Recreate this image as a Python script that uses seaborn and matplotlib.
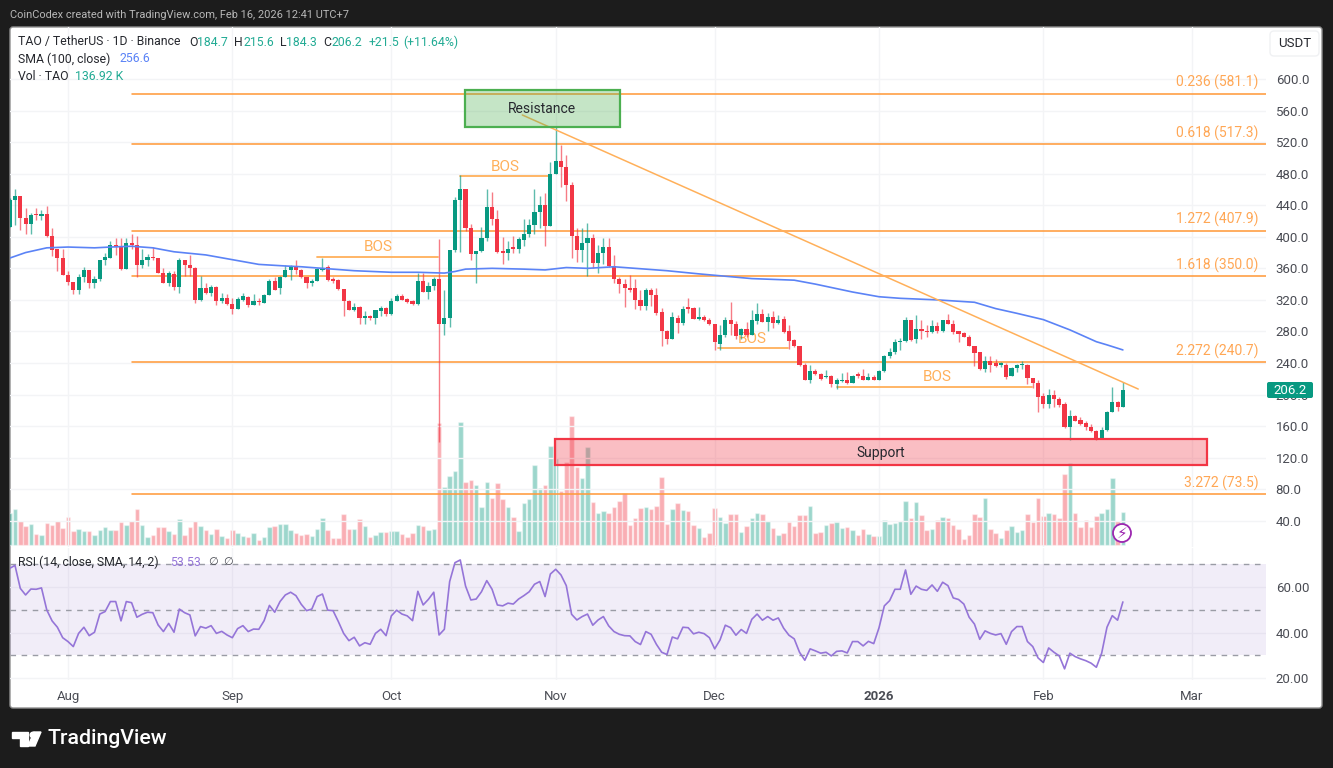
import matplotlib
matplotlib.use('Agg')
import matplotlib.pyplot as plt
from matplotlib.patches import Rectangle, FancyBboxPatch, Circle, Polygon
import pandas as pd
import seaborn as sns

# daily candles, index 0 = 21 Jul 2025, index 210 = 16 Feb 2026
opens = [413,446,452,424,416,428,426,429,401,384,
         373,352,343,333,349,358,341,346,371,373,
         390,388,359,392,390,364,370,375,373,354,
         341,353,336,371,364,361,320,335,329,336,
         318,323,315,309,320,324,314,319,316,326,
         344,335,349,358,362,358,349,342,344,358,
         362,346,345,334,319,307,311,297,300,297,
         306,310,302,319,325,321,318,315,344,330,
         338,347,290,297,383,447,460,411,378,382,
         399,438,422,382,380,387,384,396,404,415,
         432,440,414,480,496,489,466,401,383,392,
         399,367,380,387,363,347,340,335,335,320,
         312,333,326,305,280,271,297,291,310,310,
         296,298,295,289,264,276,295,290,275,283,
         276,293,302,292,298,291,296,280,269,262,
         238,219,230,226,222,223,213,217,218,215,
         225,224,218,222,218,230,249,254,267,268,
         294,270,283,281,279,287,280,294,290,280,
         278,273,262,254,233,242,240,237,238,223,
         234,237,237,221,215,198,188,199,194,188,
         159,173,168,164,159,154,145,155,178,191,184.7]
closes = [447,452,424,416,427,427,429,401,383,373,
          352,343,333,349,358,342,346,371,374,390,
          387,359,392,390,364,370,374,373,354,342,
          354,336,371,364,360,320,335,329,336,319,
          323,315,309,321,325,314,318,317,326,344,
          333,349,358,362,358,349,342,344,359,361,
          345,344,334,318,307,311,297,300,297,307,
          310,302,319,325,320,317,315,344,330,338,
          347,290,297,383,447,461,411,378,382,399,
          438,422,381,380,385,385,397,404,415,432,
          440,414,480,496,489,466,401,383,392,399,
          367,380,387,363,347,340,335,332,320,312,
          333,326,304,280,271,298,291,309,309,296,
          298,295,289,267,276,295,290,274,283,276,
          295,302,292,298,291,295,279,268,262,238,
          219,230,226,220,224,213,218,218,215,224,
          224,218,222,219,230,249,254,267,268,294,
          269,283,280,279,287,280,294,290,279,277,
          273,262,253,233,242,237,236,240,222,234,
          237,239,221,215,197,188,199,194,187,159,
          173,167,163,159,154,143,155,178,191,184,206.2]
highs = [449,461,452,436,430,436,434,439,411,384,
         384,357,343,353,362,358,350,371,379,395,
         399,398,399,404,401,384,378,387,373,360,
         356,356,373,371,377,362,350,341,339,337,
         329,328,322,324,329,325,327,322,328,347,
         349,350,364,364,370,359,349,346,361,373,
         364,349,347,334,320,316,312,306,301,307,
         312,311,322,328,328,322,320,354,354,343,
         349,397,332,383,450,478,460,416,382,413,
         460,457,434,400,395,401,400,423,423,460,
         452,455,495,539,516,504,470,411,411,417,
         404,390,399,398,377,349,347,351,347,333,
         335,335,335,310,282,305,301,312,323,311,
         311,301,297,289,288,298,317,293,284,292,
         307,316,309,303,306,301,299,288,270,262,
         240,237,232,227,231,225,221,227,228,225,
         228,232,227,225,231,250,259,270,272,298,
         295,301,295,288,294,292,295,302,295,281,
         279,276,262,254,249,249,245,241,240,235,
         239,243,239,221,218,202,207,206,197,191,
         180,174,171,167,163,155,159,179,209,192,215.6]
lows = [413,415,409,403,403,421,421,400,376,356,
        352,339,327,328,343,335,335,344,364,373,
        377,358,359,385,349,360,363,371,354,341,
        337,333,329,350,350,316,318,328,325,314,
        316,314,302,308,318,311,314,314,316,326,
        333,327,349,345,353,348,335,337,344,356,
        344,341,333,300,307,306,290,290,295,289,
        299,299,301,318,320,316,313,313,330,321,
        333,140,275,286,381,381,407,371,342,381,
        395,415,380,366,371,379,379,388,400,404,
        411,388,414,480,463,445,373,368,368,350,
        360,354,366,362,342,329,311,330,308,307,
        307,312,301,261,264,270,278,288,303,296,
        295,293,288,256,257,273,276,270,271,273,
        276,290,292,280,285,290,278,258,260,236,
        218,215,225,218,221,210,207,216,214,215,
        221,218,218,218,218,229,246,252,257,267,
        268,265,271,273,278,278,279,289,277,267,
        273,261,236,231,229,229,235,235,220,224,
        228,233,214,208,178,183,183,184,184,157,
        143,166,161,155,152,142,145,154,178,179,184.3]
# thousands of TAO
volumes = [133,147,99,79,85,44,41,92,84,99,
           70,116,58,64,58,58,40,60,75,62,
           60,93,84,97,147,84,32,40,75,74,
           58,44,108,40,74,100,79,62,44,64,
           37,27,60,51,36,34,48,19,32,73,
           77,85,88,62,49,42,45,37,67,110,
           60,29,27,129,67,64,108,79,33,41,
           53,53,58,58,44,33,48,84,77,60,
           64,500,237,285,306,507,258,267,248,158,
           258,195,253,188,156,116,59,171,188,329,
           233,247,407,356,221,340,532,322,274,401,
           175,132,141,130,158,182,215,82,111,151,
           155,147,159,279,85,149,171,144,140,82,
           71,32,48,151,116,89,127,127,53,77,
           110,133,126,97,69,41,48,93,77,122,
           123,159,51,53,81,92,93,71,73,60,
           42,67,47,38,36,101,85,90,99,182,
           110,178,123,60,64,101,115,111,81,67,
           26,42,127,114,192,64,51,29,60,79,
           55,60,126,96,192,119,130,127,110,290,
           336,130,73,103,73,119,133,149,274,99,136.92]
rsi = [68.3,69.6,59.5,56.6,59.2,59.1,59.7,50,45.2,42.4,
       37.8,36.1,33.9,39.7,42.4,38.7,40.2,48.2,49.3,53.7,
       53.7,45.2,53.7,53.2,46.8,48.1,49,48.8,43.4,40.5,
       44.1,40.2,50.4,48.8,47.8,38.6,42.7,42,43.1,39.7,
       40.6,39,37.8,41.8,43.1,40.5,41.6,41.5,45.3,52,
       49,53.7,56.6,57.8,56.3,52.5,49.7,50.4,55.9,57,
       49.9,49.7,44.9,39.7,36.5,38,34.2,35.6,34.9,39.7,
       41.5,38.7,47.4,49.9,48.2,47.4,45.3,58.2,52.2,54.7,
       57.8,39,41.5,62.5,70.8,72,60.5,54.4,54.8,58,
       62.9,59.1,52.2,51.8,53,52.6,54.8,56.3,58,61.3,
       62.5,55.9,65.8,67.9,65.4,60.7,48.1,45.6,47.1,48.2,
       43.3,45.6,47.1,43,40.5,39.3,38.7,38.6,36.1,34.8,
       40.5,39.3,34.9,31.4,30.4,38.1,37.3,42.4,42.2,39.5,
       40.2,39.6,37.8,32.9,36.8,43.3,42.2,38.9,41.4,39.7,
       45.9,48.2,45.5,47.1,45.5,46.5,42,38.9,37.3,31.4,
       27.9,32.9,32,31,31.4,29.8,31.8,32,31.1,36.1,
       36.1,34.2,36.2,35.2,42.2,51.8,54.1,59.1,59.1,67.6,
       56.9,60.5,59.1,58.6,61,58.2,62.2,60.7,55.3,54.6,
       52.6,46.8,43.8,37.1,40.8,39.7,39,39.6,34.9,40.5,
       42.7,42.7,36.1,33.9,28.9,26.9,33.3,31.4,29.8,24.1,
       31,29.5,28.5,27.7,26.6,24.8,31,42.4,47.5,45.5,53.53]

sma_days = [0,3,7,11,16,19,23,27,31,37,42,47,52,55,59,65,72,77,82,84,86,91,97,101,105,
            109,114,118,124,130,135,140,148,152,159,164,168,175,182,186,190,195,200,205,207,210]
sma_values = [373,380,386,387,386,387,388,386,381,377,371,365,363,362,360,357,355,355,354,356,359,360,359,358,361,
              360,362,360,357,353,350,347,345,340,330,324,322,320,317,309,303,295,282,267,263,256.6]

month_days = [11, 42, 72, 103, 133, 164, 195, 223]
month_labels = ['Aug', 'Sep', 'Oct', 'Nov', 'Dec', '2026', 'Feb', 'Mar']
price_ticks = [40, 80, 120, 160, 200, 240, 280, 320, 360, 400, 440, 480, 520, 560, 600]
rsi_ticks = [20, 40, 60]
fib_levels = [581.1, 517.3, 407.9, 350.0, 240.7, 73.5]
fib_labels = ['0.236 (581.1)', '0.618 (517.3)', '1.272 (407.9)', '1.618 (350.0)', '2.272 (240.7)', '3.272 (73.5)']
bos_starts = [57.9, 85, 133.6, 156]
bos_ends = [80.8, 101.6, 146.9, 192.9]
bos_prices = [374.8, 477.5, 258.7, 210]
bos_label_days = [69.5, 93.5, 140, 175]
bos_label_prices = [387, 489, 271, 222.5]

W, H = 1333, 768
UP, DOWN = '#089981', '#f23645'
ORANGE = '#ff9b3d'
LIGHT_ORANGE = '#ffb05a'
GRID = '#f3f4f6'
LABEL = '#4a4c54'

sns.set_theme(style='white')
plt.rcParams['font.family'] = ['Roboto', 'DejaVu Sans']

df = pd.DataFrame({'day': range(len(closes)), 'open': opens, 'close': closes,
                   'high': highs, 'low': lows, 'vol': volumes, 'rsi': rsi})
df['side'] = ['up' if c >= o else 'down' for o, c in zip(df['open'], df['close'])]
sma = pd.DataFrame({'day': sma_days, 'sma': sma_values})


def pane(x0, y0, x1, y1, z):
    a = fig.add_axes([x0 / W, 1 - y1 / H, (x1 - x0) / W, (y1 - y0) / H], zorder=z)
    a.patch.set_visible(False)
    for s in a.spines.values():
        s.set_visible(False)
    return a


fig = plt.figure(figsize=(W / 100, H / 100), dpi=100, facecolor='#1c1c1c')

# white panel behind everything
over0 = pane(0, 0, W, H, 0)
over0.set_xlim(0, W)
over0.set_ylim(H, 0)
over0.axis('off')
over0.add_patch(FancyBboxPatch((11, 28), 1310, 679, boxstyle='round,pad=1,rounding_size=3',
                               fc='white', ec='#8f8f8f', lw=1))

# volume pane, same strip as price
ax_vol = pane(10, 27, 1266, 547, 1)
sns.barplot(data=df, x='day', y='vol', hue='side', palette={'up': UP, 'down': DOWN},
            native_scale=True, dodge=False, width=0.85, saturation=1, alpha=0.4,
            errorbar=None, legend=False, ax=ax_vol)
ax_vol.set_xlim(0.06, 237)
ax_vol.set_ylim(-8.2, 2129)
ax_vol.set_xlabel('')
ax_vol.set_ylabel('')
ax_vol.set_xticks([])
ax_vol.set_yticks([])

# price pane
ax = pane(10, 27, 1266, 547, 2)
ax.set_xlim(0.06, 237)
ax.set_ylim(6.8, 665.9)
ax.yaxis.tick_right()
ax.set_yticks(price_ticks)
ax.set_yticklabels([f'{p:.1f}' for p in price_ticks], fontsize=9.5, color=LABEL)
ax.set_xticks(month_days)
ax.set_xticklabels([])
ax.tick_params(axis='both', length=0, pad=7)
ax.grid(True, color=GRID, lw=1)
ax.set_axisbelow(True)

for lvl, lab in zip(fib_levels, fib_labels):
    ax.plot([23.07, 237], [lvl, lvl], color=ORANGE, lw=1.15, zorder=2)
    ax.annotate(lab, xy=(235.6, lvl), xytext=(0, 2.5), textcoords='offset points',
                ha='right', va='bottom', color='#ffa755', fontsize=10, zorder=2)

for s, e, p in zip(bos_starts, bos_ends, bos_prices):
    ax.plot([s, e], [p, p], color=LIGHT_ORANGE, lw=1.3, zorder=2)
for d, p in zip(bos_label_days, bos_label_prices):
    ax.text(d, p, 'BOS', color=LIGHT_ORANGE, fontsize=11, ha='center', va='center', zorder=2)

# candles
colors = [UP if s == 'up' else DOWN for s in df['side']]
ax.vlines(df['day'], df['low'], df['high'], colors=colors, lw=1, alpha=0.65, zorder=3)
body = (df['close'] - df['open']).abs().clip(lower=1.5)
ax.bar(df['day'], body, bottom=df[['open', 'close']].min(axis=1), width=0.78, color=colors, lw=0, zorder=4)

sns.lineplot(data=sma, x='day', y='sma', color='#5b83f6', lw=1.2, ax=ax, zorder=5)
ax.set_xlabel('')
ax.set_ylabel('')

ax.plot([96.7, 212.9], [554.4, 207], color=LIGHT_ORANGE, lw=1.1, zorder=6)

ax.add_patch(Rectangle((85.9, 539), 29.3, 47, fc='#4caf50', ec='none', alpha=0.32, zorder=6))
ax.add_patch(Rectangle((85.9, 539), 29.3, 47, fc='none', ec='#4caf50', lw=1.6, zorder=6))
ax.text(100.5, 561.5, 'Resistance', color='#26282e', fontsize=10, ha='center', va='center', zorder=7)
ax.add_patch(Rectangle((102.9, 110.8), 123, 32.9, fc=DOWN, ec='none', alpha=0.32, zorder=6))
ax.add_patch(Rectangle((102.9, 110.8), 123, 32.9, fc='none', ec=DOWN, lw=1.6, zorder=6))
ax.text(164.4, 126, 'Support', color='#26282e', fontsize=10, ha='center', va='center', zorder=7)

# rsi pane
ax_rsi = pane(10, 548, 1266, 680, 2)
ax_rsi.set_xlim(0.06, 237)
ax_rsi.set_ylim(19.2, 77.25)
ax_rsi.axhspan(30, 70, color='#7e57c2', alpha=0.1, lw=0)
for lvl in [30, 50, 70]:
    ax_rsi.axhline(lvl, color='#9a9ca5', lw=1, ls=(0, (4, 4)))
sns.lineplot(data=df, x='day', y='rsi', color='#9575d8', lw=1.2, ax=ax_rsi)
ax_rsi.yaxis.tick_right()
ax_rsi.set_yticks(rsi_ticks)
ax_rsi.set_yticklabels([f'{v:.2f}' for v in rsi_ticks], fontsize=9.5, color=LABEL)
ax_rsi.set_xticks(month_days)
ax_rsi.set_xticklabels(month_labels, fontsize=9.5, color=LABEL)
ax_rsi.get_xticklabels()[5].set_fontweight('bold')
ax_rsi.tick_params(axis='y', length=0, pad=7)
ax_rsi.tick_params(axis='x', length=0, pad=7)
ax_rsi.grid(True, color=GRID, lw=1)
ax_rsi.set_axisbelow(True)
ax_rsi.set_xlabel('')
ax_rsi.set_ylabel('')

# header texts, badges and logo in pixel coordinates
over = pane(0, 0, W, H, 5)
over.set_xlim(0, W)
over.set_ylim(H, 0)
over.axis('off')


def put(x, y, s, c='#26282e', size=9.2, **kw):
    over.text(x, y, s, color=c, fontsize=size, va='center', **kw)


put(10, 15.5, 'CoinCodex created with TradingView.com, Feb 16, 2026 12:41 UTC+7', '#b8b8b8', 7.9)
TEAL = '#22ab94'
put(18, 42, 'TAO / TetherUS · 1D · Binance', size=8.8)
for x, s, c in [(189, 'O', None), (197, '184.7', TEAL), (234, 'H', None), (243, '215.6', TEAL),
                (280, 'L', None), (286, '184.3', TEAL), (323, 'C', None), (332, '206.2', TEAL),
                (369, '+21.5', TEAL), (403, '(+11.64%)', TEAL)]:
    put(x, 42, s, c or '#26282e', 8.8)
put(18, 59, 'SMA (100, close)', size=8.8)
put(119, 59, '256.6', '#5b83f6', 8.8)
put(18, 76, 'Vol · TAO', size=8.8)
put(75, 76, '136.92 K', TEAL, 8.8)
put(18, 562, 'RSI (14, close, SMA, 14, 2)', size=8.8)
put(170, 562, '53.53', '#9575d8', 8.8)
put(213, 562, '∅', '#4a4c54', 8, ha='center')
put(228, 562, '∅', '#4a4c54', 8, ha='center')

over.add_patch(FancyBboxPatch((1271, 32), 47, 23, boxstyle='round,pad=1,rounding_size=4',
                              fc='white', ec='#f0f1f3', lw=1))
put(1295, 43.5, 'USDT', size=9.5, ha='center')
over.add_patch(FancyBboxPatch((1268, 383), 44, 14, boxstyle='round,pad=1,rounding_size=2', fc=UP, ec='none'))
put(1290, 390.5, '206.2', 'white', 9.5, ha='center')
over.add_patch(Circle((1122, 533), 9, fc='white', ec='#9c27b0', lw=1.3))
over.text(1122, 533, '⚡', color='#9c27b0', fontsize=11, family='DejaVu Sans', ha='center', va='center')

over.add_patch(Polygon([(12, 732), (28, 732), (28, 746), (20, 746), (20, 738), (12, 738)], fc='white'))
over.add_patch(Circle((33, 735), 2.8, fc='white'))
over.add_patch(Polygon([(34, 732), (41, 732), (35, 746), (28, 746)], fc='white'))
put(47, 739, 'TradingView', 'white', 15.3, fontweight='medium')

fig.savefig('out.png', dpi=100, facecolor=fig.get_facecolor())
